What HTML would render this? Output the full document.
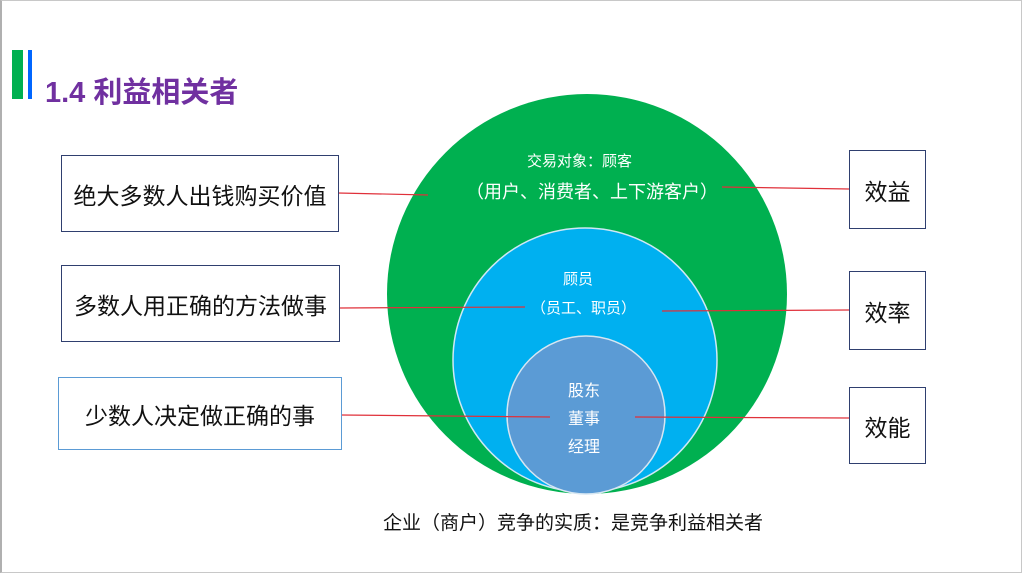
<!DOCTYPE html>
<html><head><meta charset="utf-8"><style>
body{margin:0;width:1022px;height:573px;background:#fff;position:relative;overflow:hidden;font-family:"Liberation Sans","Noto Sans CJK SC",sans-serif}
*{box-sizing:border-box}
.frame{position:absolute;left:0;top:0;width:1022px;height:573px;border:1px solid #c8c8c8;border-left:2px solid #b0b0b0}
.box{position:absolute;border:1px solid #2f3f6f;display:flex;align-items:center;justify-content:center;font-size:23px;color:#111;background:#fff;white-space:nowrap}
.t{position:absolute;color:#fff;text-align:center;white-space:nowrap}
</style></head><body>
<div class="frame"></div>
<div style="position:absolute;left:12px;top:50px;width:11px;height:49px;background:#00b050"></div>
<div style="position:absolute;left:28px;top:50px;width:4px;height:49px;background:#0066ff"></div>
<div style="position:absolute;left:45px;top:69px;font-size:29px;font-weight:bold;color:#7030a0">1.4 利益相关者</div>
<svg style="position:absolute;left:0;top:0" width="1022" height="573">
<circle cx="587" cy="294" r="200" fill="#00b050"/>
<circle cx="585" cy="360" r="132" fill="#00b0f0" stroke="#cfe8f5" stroke-width="1.5"/>
<circle cx="586" cy="415" r="79" fill="#5b9bd5" stroke="#d6e6f2" stroke-width="1.5"/>
<g stroke="#e0303a" stroke-width="1.2">
<line x1="338" y1="193" x2="428" y2="195"/>
<line x1="340" y1="308" x2="525" y2="307"/>
<line x1="341" y1="415" x2="550" y2="417"/>
<line x1="722" y1="187" x2="849" y2="189"/>
<line x1="662" y1="311" x2="849" y2="310"/>
<line x1="635" y1="417" x2="849" y2="418"/>
</g>
</svg>
<div class="t" style="left:527px;top:150px;font-size:15px">交易对象：顾客</div>
<div class="t" style="left:466px;top:178px;font-size:18px">（用户、消费者、上下游客户）</div>
<div class="t" style="left:563px;top:268px;font-size:15px">顾员</div>
<div class="t" style="left:531px;top:297px;font-size:15px">（员工、职员）</div>
<div class="t" style="left:568px;top:378px;font-size:16px;line-height:28px">股东<br>董事<br>经理</div>
<div class="box" style="left:61px;top:155px;width:278px;height:77px">绝大多数人出钱购买价值</div>
<div class="box" style="left:61px;top:265px;width:279px;height:77px">多数人用正确的方法做事</div>
<div class="box" style="left:58px;top:377px;width:284px;height:73px;border-color:#5b9bd5">少数人决定做正确的事</div>
<div class="box" style="left:849px;top:150px;width:77px;height:79px">效益</div>
<div class="box" style="left:849px;top:271px;width:77px;height:79px">效率</div>
<div class="box" style="left:849px;top:387px;width:77px;height:77px">效能</div>
<div style="position:absolute;left:383px;top:508px;font-size:19px;color:#111">企业（商户）竞争的实质：是竞争利益相关者</div>
</body></html>
